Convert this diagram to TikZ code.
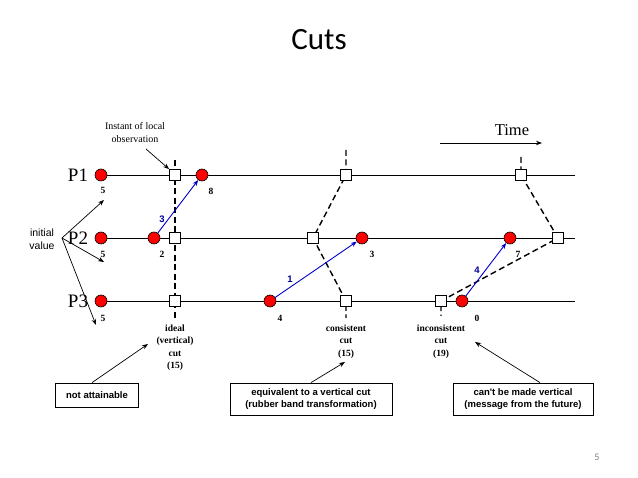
\documentclass[tikz,border=0pt]{standalone}
\usepackage{fontspec}
\setmainfont{Liberation Serif}
\newfontfamily\sansfnt{Liberation Sans}
\newfontfamily\calfnt{Carlito}
\usetikzlibrary{arrows.meta}
\begin{document}
\begin{tikzpicture}[x=1pt,y=-1pt,
  proc/.style={line width=0.9pt},
  ev/.style={circle,fill=red,draw=black,line width=0.6pt,minimum size=12pt,inner sep=0pt},
  obs/.style={rectangle,fill=white,draw=black,line width=0.8pt,minimum size=11pt,inner sep=0pt},
  val/.style={font=\bfseries\fontsize{9.5}{11}\selectfont},
  mlab/.style={font=\sansfnt\bfseries\fontsize{9.5}{11}\selectfont,text=blue!60!black},
  msg/.style={draw=blue!80!black,line width=0.9pt,-{Stealth[length=6pt]}},
  cut/.style={line width=1.4pt,dash pattern=on 6pt off 3.5pt},
  lab/.style={font=\bfseries\fontsize{9.5}{12.5}\selectfont,align=center},
  ptr/.style={-{Stealth[length=6pt]},line width=0.7pt},
  box/.style={draw,line width=0.8pt,font=\sansfnt\bfseries\fontsize{9.5}{12}\selectfont,align=center,inner sep=3pt}]
\useasboundingbox (0,0) rectangle (638,478);
\node[font=\calfnt\fontsize{31}{34}\selectfont] (title) at (319,40) {Cuts};
% process lines
\coordinate (l1) at (100,175); \coordinate (r1) at (575,175);
\coordinate (l2) at (100,238); \coordinate (r2) at (575,238);
\coordinate (l3) at (100,301); \coordinate (r3) at (575,301);
\draw[proc] (l1) -- (r1); \draw[proc] (l2) -- (r2); \draw[proc] (l3) -- (r3);
\node[font=\fontsize{19}{20}\selectfont] (P1) at (78,175) {P1};
\node[font=\fontsize{19}{20}\selectfont] (P2) at (78,238) {P2};
\node[font=\fontsize{19}{20}\selectfont] (P3) at (78,301) {P3};
% cuts
\coordinate (c1t) at (175,160); \coordinate (c1b) at (175,318);
\draw[cut] (c1t) -- (c1b);
\coordinate (c2t) at (346,150); \coordinate (c2a) at (346,175); \coordinate (c2b) at (313,238);
\coordinate (c2c) at (346,301); \coordinate (c2d) at (346,318);
\draw[cut] (c2t) -- (c2a) -- (c2b) -- (c2c) -- (c2d);
\coordinate (c3t) at (521,157); \coordinate (c3a) at (521,175); \coordinate (c3b) at (558,238);
\coordinate (c3c) at (441,301); \coordinate (c3d) at (441,316);
\draw[cut] (c3t) -- (c3a) -- (c3b) -- (c3c) -- (c3d);
% squares
\node[obs] (s11) at (175,175) {}; \node[obs] (s12) at (346,175) {}; \node[obs] (s13) at (521,175) {};
\node[obs] (s21) at (175,238) {}; \node[obs] (s22) at (313,238) {}; \node[obs] (s23) at (558,238) {};
\node[obs] (s31) at (175,301) {}; \node[obs] (s32) at (346,301) {}; \node[obs] (s33) at (441,301) {};
% events
\node[ev] (e11) at (101,175) {}; \node[ev] (e12) at (202,175) {};
\node[ev] (e21) at (101,238) {}; \node[ev] (e22) at (154,238) {}; \node[ev] (e23) at (362,238) {}; \node[ev] (e24) at (510,238) {};
\node[ev] (e31) at (101,301) {}; \node[ev] (e32) at (270,301) {}; \node[ev] (e33) at (462,301) {};
% messages
\draw[msg] (e22) -- (e12); \draw[msg] (e32) -- (e23); \draw[msg] (e33) -- (e24);
\node[mlab] (m1) at (162,219) {3};
\node[mlab] (m2) at (290,279) {1};
\node[mlab] (m3) at (477,270) {4};
% values
\node[val] (v11) at (103,190) {5}; \node[val] (v12) at (211,191) {8};
\node[val] (v21) at (103,254) {5}; \node[val] (v22) at (162,254) {2}; \node[val] (v23) at (372,254) {3}; \node[val] (v24) at (518,254) {7};
\node[val] (v31) at (103,318) {5}; \node[val] (v32) at (280,318) {4}; \node[val] (v33) at (477,318) {0};
% initial value
\node[font=\sansfnt\fontsize{10.5}{13}\selectfont,align=center] (iv) at (42,239) {initial\\value};
\coordinate (ivo) at (62,238);
\coordinate (iv1) at (104,200); \coordinate (iv2) at (104,262); \coordinate (iv3) at (96,325);
\draw[ptr] (ivo) -- (iv1); \draw[ptr] (ivo) -- (iv2); \draw[ptr] (ivo) -- (iv3);
% instant of local observation
\node[font=\fontsize{10}{13}\selectfont,align=center] (inst) at (135,133) {Instant of local\\observation};
\coordinate (io) at (146,149);
\draw[ptr] (io) -- (s11.north west);
% time
\node[font=\fontsize{16.5}{18}\selectfont] (time) at (512,130) {Time};
\coordinate (t0) at (440,143); \coordinate (t1) at (542,143);
\draw[ptr,line width=0.9pt] (t0) -- (t1);
% cut labels
\node[lab,anchor=north] (k1) at (175,321) {ideal\\(vertical)\\cut\\(15)};
\node[lab,anchor=north] (k2) at (346,321) {consistent\\cut\\(15)};
\node[lab,anchor=north] (k3) at (441,321) {inconsistent\\cut\\(19)};
% boxes
\node[box,minimum width=83pt,minimum height=24pt] (b1) at (97,395) {not attainable};
\node[box,minimum width=162pt,minimum height=32pt] (b2) at (311,399) {equivalent to a vertical cut\\(rubber band transformation)};
\node[box,minimum width=140pt,minimum height=32pt] (b3) at (523,399) {can't be made vertical\\(message from the future)};
\coordinate (p1) at (148,344); \coordinate (p2) at (345,362); \coordinate (p3) at (475,342);
\draw[ptr] ([xshift=-5pt]b1.north) -- (p1);
\draw[ptr] (b2.north) -- (p2);
\draw[ptr] ([xshift=17pt]b3.north) -- (p3);
\node[font=\calfnt\fontsize{10}{11}\selectfont,text=gray] (pg) at (597,457) {5};
\end{tikzpicture}
\end{document}
